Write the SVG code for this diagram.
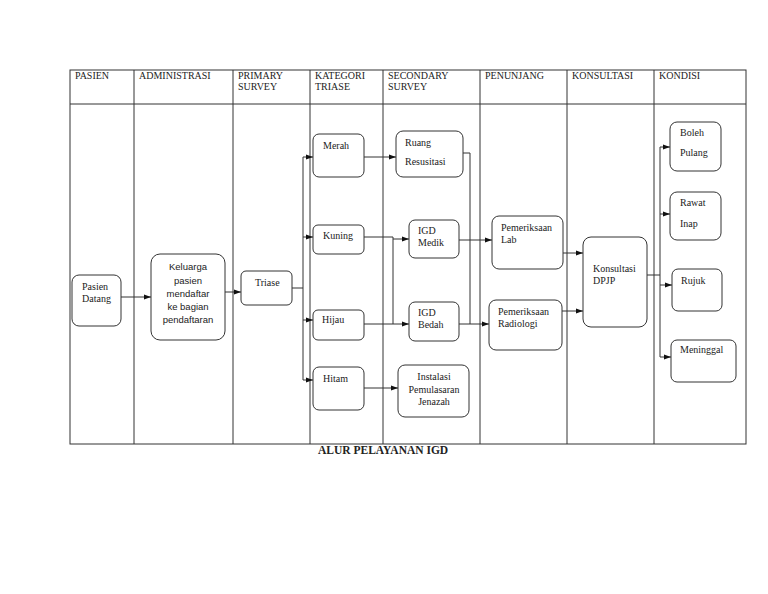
<svg xmlns="http://www.w3.org/2000/svg" width="768" height="594" viewBox="0 0 768 594">
<style>
.t{font-family:"Liberation Serif",serif;font-size:10px;fill:#222}
.s{font-family:"Liberation Sans",sans-serif;font-size:9.5px;fill:#222}
.b{fill:#fff;stroke:#333;stroke-width:1}
.g line,.g polyline{stroke:#333;stroke-width:1;fill:none}
.c line,.c polyline{stroke:#333;stroke-width:1;fill:none}
</style>
<defs><marker id="a" markerWidth="8" markerHeight="8" refX="7" refY="4" orient="auto" markerUnits="userSpaceOnUse"><path d="M0,1.5 L7,4 L0,6.5z" fill="#111"/></marker></defs>
<rect width="768" height="594" fill="#fff"/>
<g id="table" class="g">
<rect x="70" y="70" width="676" height="374" fill="none" stroke="#333"/>
<line x1="70" y1="104" x2="746" y2="104"/>
<line x1="134" y1="70" x2="134" y2="444"/><line x1="233" y1="70" x2="233" y2="444"/>
<line x1="310" y1="70" x2="310" y2="444"/><line x1="383" y1="70" x2="383" y2="444"/>
<line x1="480" y1="70" x2="480" y2="444"/><line x1="567" y1="70" x2="567" y2="444"/>
<line x1="654" y1="70" x2="654" y2="444"/>
<text class="t" x="75" y="79">PASIEN</text>
<text class="t" x="139" y="79">ADMINISTRASI</text>
<text class="t" x="238" y="79">PRIMARY</text><text class="t" x="238" y="90">SURVEY</text>
<text class="t" x="315" y="79">KATEGORI</text><text class="t" x="315" y="90">TRIASE</text>
<text class="t" x="388" y="79">SECONDARY</text><text class="t" x="388" y="90">SURVEY</text>
<text class="t" x="485" y="79">PENUNJANG</text>
<text class="t" x="572" y="79">KONSULTASI</text>
<text class="t" x="659" y="79">KONDISI</text>
</g>
<g class="c" id="connectors">
<line x1="121" y1="297" x2="151" y2="297" marker-end="url(#a)"/>
<line x1="225" y1="292" x2="241" y2="292" marker-end="url(#a)"/>
<polyline points="292,288 303,288"/>
<line x1="303" y1="157" x2="303" y2="380"/>
<line x1="303" y1="157" x2="313" y2="157" marker-end="url(#a)"/>
<line x1="303" y1="237" x2="313" y2="237" marker-end="url(#a)"/>
<line x1="303" y1="320" x2="313" y2="320" marker-end="url(#a)"/>
<line x1="303" y1="380" x2="313" y2="380" marker-end="url(#a)"/>
<line x1="364" y1="157" x2="396" y2="157" marker-end="url(#a)"/>
<polyline points="364,237 393,237"/>
<line x1="364" y1="324" x2="409" y2="324" marker-end="url(#a)"/>
<line x1="393" y1="237" x2="393" y2="324"/>
<line x1="393" y1="239" x2="409" y2="239" marker-end="url(#a)"/>
<line x1="364" y1="388" x2="398" y2="388" marker-end="url(#a)"/>
<polyline points="463,153 470,153 470,324"/>
<line x1="459" y1="240" x2="492" y2="240" marker-end="url(#a)"/>
<line x1="459" y1="324" x2="489" y2="324" marker-end="url(#a)"/>
<line x1="563" y1="253" x2="583" y2="253" marker-end="url(#a)"/>
<line x1="562" y1="311" x2="583" y2="311" marker-end="url(#a)"/>
<polyline points="647,275 660,275"/>
<line x1="660" y1="147" x2="660" y2="357"/>
<line x1="660" y1="147" x2="670" y2="147" marker-end="url(#a)"/>
<line x1="660" y1="214" x2="670" y2="214" marker-end="url(#a)"/>
<line x1="660" y1="285" x2="672" y2="285" marker-end="url(#a)"/>
<line x1="660" y1="357" x2="671" y2="357" marker-end="url(#a)"/>
</g>
<g id="pasien"><rect class="b" x="72" y="275" width="49" height="51" rx="7"/><text class="t" x="82" y="290">Pasien</text><text class="t" x="82" y="302">Datang</text></g>
<g id="keluarga"><rect class="b" x="151" y="254" width="74" height="86" rx="9"/>
<text class="s" text-anchor="middle" x="188" y="270">Keluarga</text><text class="s" text-anchor="middle" x="188" y="284">pasien</text><text class="s" text-anchor="middle" x="188" y="297">mendaftar</text><text class="s" text-anchor="middle" x="188" y="310">ke bagian</text><text class="s" text-anchor="middle" x="188" y="323">pendaftaran</text></g>
<g id="triase"><rect class="b" x="241" y="271" width="51" height="34" rx="5"/><text class="t" x="255" y="286">Triase</text></g>
<g id="merah"><rect class="b" x="313" y="134" width="51" height="43" rx="6"/><text class="t" x="323" y="149">Merah</text></g>
<g id="kuning"><rect class="b" x="313" y="225" width="51" height="29" rx="5"/><text class="t" x="323" y="239">Kuning</text></g>
<g id="hijau"><rect class="b" x="313" y="310" width="51" height="30" rx="5"/><text class="t" x="322" y="323">Hijau</text></g>
<g id="hitam"><rect class="b" x="313" y="367" width="51" height="43" rx="6"/><text class="t" x="323" y="382">Hitam</text></g>
<g id="ruang"><rect class="b" x="396" y="131" width="67" height="46" rx="7"/><text class="t" x="405" y="146">Ruang</text><text class="t" x="405" y="165">Resusitasi</text></g>
<g id="igdmedik"><rect class="b" x="409" y="220" width="50" height="38" rx="6"/><text class="t" x="418" y="234">IGD</text><text class="t" x="418" y="246">Medik</text></g>
<g id="igdbedah"><rect class="b" x="409" y="302" width="50" height="39" rx="6"/><text class="t" x="418" y="316">IGD</text><text class="t" x="418" y="328">Bedah</text></g>
<g id="instalasi"><rect class="b" x="398" y="365" width="71" height="52" rx="7"/><text class="t" text-anchor="middle" x="434" y="380">Instalasi</text><text class="t" text-anchor="middle" x="434" y="393">Pemulasaran</text><text class="t" text-anchor="middle" x="434" y="405">Jenazah</text></g>
<g id="lab"><rect class="b" x="492" y="216" width="71" height="53" rx="7"/><text class="t" x="501" y="231">Pemeriksaan</text><text class="t" x="501" y="243">Lab</text></g>
<g id="radiologi"><rect class="b" x="489" y="300" width="73" height="50" rx="7"/><text class="t" x="498" y="315">Pemeriksaan</text><text class="t" x="498" y="327">Radiologi</text></g>
<g id="konsultasi"><rect class="b" x="583" y="237" width="64" height="90" rx="8"/><text class="t" x="593" y="272">Konsultasi</text><text class="t" x="593" y="284">DPJP</text></g>
<g id="boleh"><rect class="b" x="670" y="122" width="51" height="49" rx="7"/><text class="t" x="680" y="136">Boleh</text><text class="t" x="680" y="156">Pulang</text></g>
<g id="rawat"><rect class="b" x="670" y="192" width="51" height="48" rx="7"/><text class="t" x="680" y="206">Rawat</text><text class="t" x="680" y="227">Inap</text></g>
<g id="rujuk"><rect class="b" x="672" y="269" width="50" height="42" rx="6"/><text class="t" x="681" y="284">Rujuk</text></g>
<g id="meninggal"><rect class="b" x="671" y="340" width="65" height="42" rx="6"/><text class="t" x="680" y="353">Meninggal</text></g>
<text x="318" y="454" style="font-family:'Liberation Serif',serif;font-size:11.5px;font-weight:bold;fill:#222">ALUR PELAYANAN IGD</text>
</svg>
